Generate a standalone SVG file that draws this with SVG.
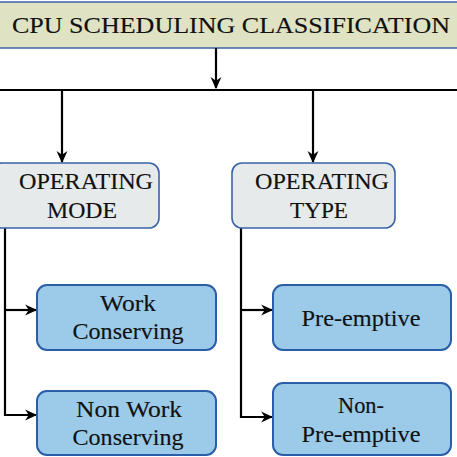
<svg xmlns="http://www.w3.org/2000/svg" width="457" height="457" viewBox="0 0 457 457">
<style>
text{font-family:"Liberation Serif","Times New Roman",serif;fill:#111;stroke:#111;stroke-width:0.15;font-size:23px;text-anchor:middle}
.gray{fill:#e7eaea;stroke:#3a64a8;stroke-width:1.6}
.blue{fill:#9ccae9;stroke:#2b5ea8;stroke-width:2}
.ln{fill:none;stroke:#000;stroke-width:2.2}
</style>
<defs>
<marker id="ah" viewBox="0 0 10 10" refX="9" refY="5" markerWidth="5.5" markerHeight="5.5" orient="auto" markerUnits="strokeWidth">
<path d="M0,0.5 L10,5 L0,9.5 L3,5 z" fill="#000"/>
</marker>
</defs>
<rect width="457" height="457" fill="#fff"/>
<g id="root">
<rect x="-5" y="2" width="467" height="46" fill="#dfe3c4" stroke="#3a64a8" stroke-width="1.5"/>
<text x="231" y="33" font-size="30" textLength="438" lengthAdjust="spacingAndGlyphs">CPU SCHEDULING CLASSIFICATION</text>
</g>
<g id="connectors">
<path class="ln" d="M216,48 V88" marker-end="url(#ah)"/>
<path class="ln" d="M0,90 H457"/>
<path class="ln" d="M62,90 V162" marker-end="url(#ah)"/>
<path class="ln" d="M313,90 V162" marker-end="url(#ah)"/>
<path class="ln" d="M5,228 V415 H36" marker-end="url(#ah)"/>
<path class="ln" d="M5,310 H36" marker-end="url(#ah)"/>
<path class="ln" d="M241,228 V417 H272" marker-end="url(#ah)"/>
<path class="ln" d="M241,310 H272" marker-end="url(#ah)"/>
</g>
<g id="operating-mode">
<rect class="gray" x="-8" y="163" width="167" height="65" rx="10"/>
<text x="86" y="189" textLength="134" lengthAdjust="spacingAndGlyphs">OPERATING</text>
<text x="82" y="218" textLength="70" lengthAdjust="spacingAndGlyphs">MODE</text>
</g>
<g id="operating-type">
<rect class="gray" x="232" y="163" width="163" height="65" rx="10"/>
<text x="322" y="189" textLength="134" lengthAdjust="spacingAndGlyphs">OPERATING</text>
<text x="319" y="218" textLength="58" lengthAdjust="spacingAndGlyphs">TYPE</text>
</g>
<g id="work-conserving">
<rect class="blue" x="37" y="285" width="179" height="65" rx="10"/>
<text x="128" y="311" textLength="56" lengthAdjust="spacingAndGlyphs">Work</text>
<text x="128" y="339" textLength="111" lengthAdjust="spacingAndGlyphs">Conserving</text>
</g>
<g id="non-work-conserving">
<rect class="blue" x="37" y="391" width="179" height="64" rx="10"/>
<text x="129" y="417" textLength="106" lengthAdjust="spacingAndGlyphs">Non Work</text>
<text x="128" y="445" textLength="111" lengthAdjust="spacingAndGlyphs">Conserving</text>
</g>
<g id="pre-emptive">
<rect class="blue" x="273" y="285" width="178" height="65" rx="10"/>
<text x="361" y="326" textLength="119" lengthAdjust="spacingAndGlyphs">Pre-emptive</text>
</g>
<g id="non-pre-emptive">
<rect class="blue" x="273" y="383" width="178" height="72" rx="10"/>
<text x="361" y="413" textLength="46" lengthAdjust="spacingAndGlyphs">Non-</text>
<text x="361" y="442" textLength="119" lengthAdjust="spacingAndGlyphs">Pre-emptive</text>
</g>
</svg>
